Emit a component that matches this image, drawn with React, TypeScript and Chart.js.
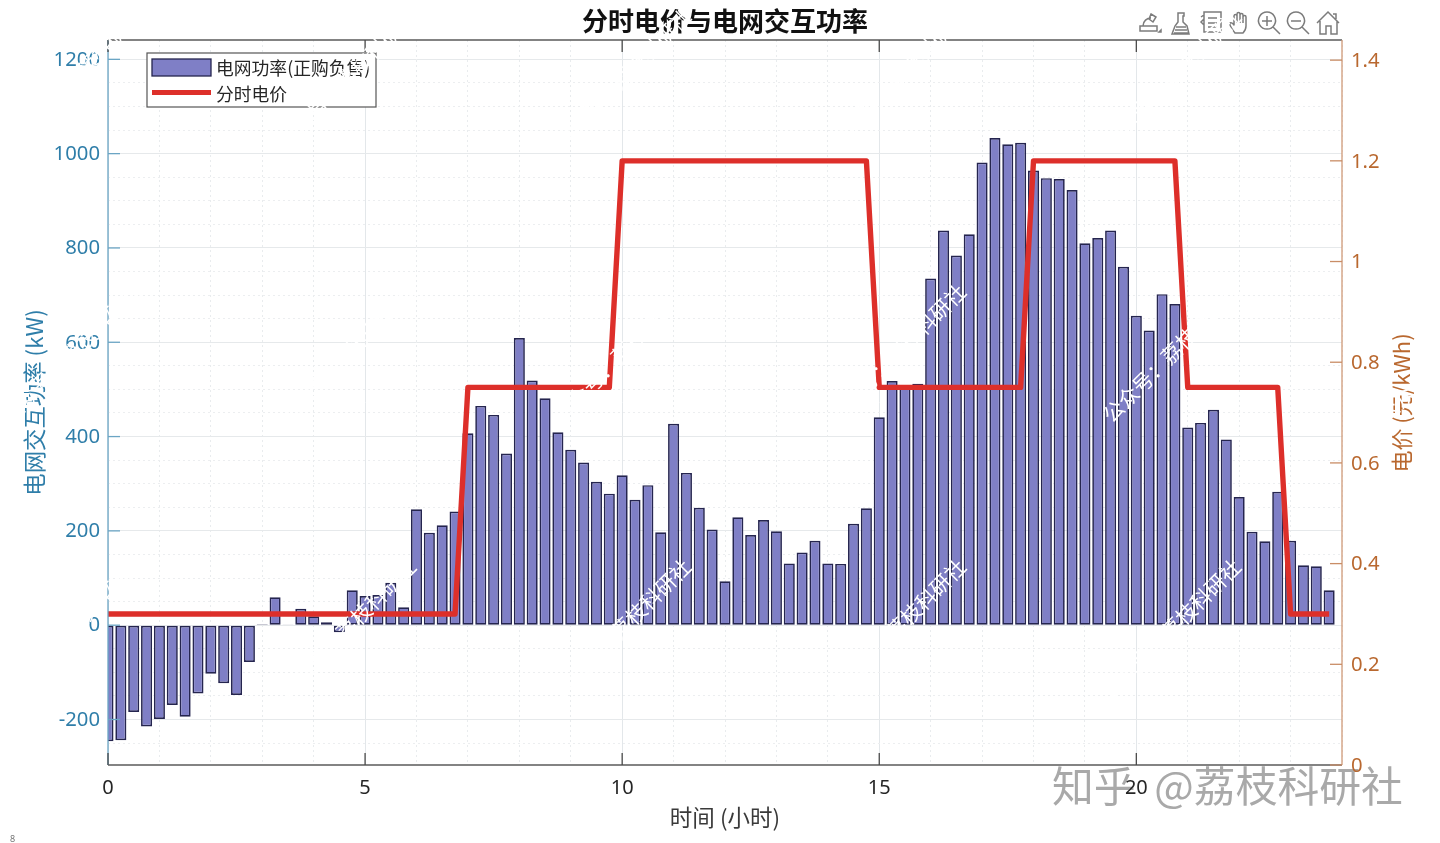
import React, { useEffect, useRef } from "react";
import Chart from "chart.js/auto";

const CJK = '"Noto Sans CJK SC", "Noto Sans", sans-serif';
const NUM = '"Noto Sans", "Open Sans", sans-serif';

const BLUE = "#2f7ea9";
const BROWN = "#b9682f";

// one bar every 15 minutes
const hours = [
  0, 0.25, 0.5, 0.75, 1, 1.25, 1.5, 1.75, 2, 2.25, 2.5, 2.75,
  3, 3.25, 3.5, 3.75, 4, 4.25, 4.5, 4.75, 5, 5.25, 5.5, 5.75,
  6, 6.25, 6.5, 6.75, 7, 7.25, 7.5, 7.75, 8, 8.25, 8.5, 8.75,
  9, 9.25, 9.5, 9.75, 10, 10.25, 10.5, 10.75, 11, 11.25, 11.5, 11.75,
  12, 12.25, 12.5, 12.75, 13, 13.25, 13.5, 13.75, 14, 14.25, 14.5, 14.75,
  15, 15.25, 15.5, 15.75, 16, 16.25, 16.5, 16.75, 17, 17.25, 17.5, 17.75,
  18, 18.25, 18.5, 18.75, 19, 19.25, 19.5, 19.75, 20, 20.25, 20.5, 20.75,
  21, 21.25, 21.5, 21.75, 22, 22.25, 22.5, 22.75, 23, 23.25, 23.5, 23.75,
];

const gridPower = [
  -246, -244, -184, -215, -199, -169, -194, -145, -103, -123, -148, -78,
  2, 59, 1.5, 35, 19, 6, -15, 74, 62, 64, 90, 38,
  246, 196, 212, 241, 407, 465, 446, 364, 609, 519, 481, 409,
  372, 345, 304, 279, 318, 266, 297, 197, 427, 323, 249, 203,
  93, 229, 191, 223, 199, 131, 154, 179, 131, 130, 215, 248,
  441, 518, 509, 512, 735, 837, 784, 829, 981, 1033, 1020, 1023,
  964, 948, 946, 923, 810, 821, 837, 760, 656, 625, 702, 681,
  419, 429, 457, 394, 272, 198, 178, 283, 179, 127, 125, 74,
];

const touPrice = [
  0.3, 0.3, 0.3, 0.3, 0.3, 0.3, 0.3, 0.3, 0.3, 0.3, 0.3, 0.3,
  0.3, 0.3, 0.3, 0.3, 0.3, 0.3, 0.3, 0.3, 0.3, 0.3, 0.3, 0.3,
  0.3, 0.3, 0.3, 0.3, 0.75, 0.75, 0.75, 0.75, 0.75, 0.75, 0.75, 0.75,
  0.75, 0.75, 0.75, 0.75, 1.2, 1.2, 1.2, 1.2, 1.2, 1.2, 1.2, 1.2,
  1.2, 1.2, 1.2, 1.2, 1.2, 1.2, 1.2, 1.2, 1.2, 1.2, 1.2, 1.2,
  0.75, 0.75, 0.75, 0.75, 0.75, 0.75, 0.75, 0.75, 0.75, 0.75, 0.75, 0.75,
  1.2, 1.2, 1.2, 1.2, 1.2, 1.2, 1.2, 1.2, 1.2, 1.2, 1.2, 1.2,
  0.75, 0.75, 0.75, 0.75, 0.75, 0.75, 0.75, 0.75, 0.3, 0.3, 0.3, 0.3,
];

const xMajorTicks = [0, 5, 10, 15, 20];
const powerTicks = [-200, 0, 200, 400, 600, 800, 1000, 1200];
const priceTicks = [0, 0.2, 0.4, 0.6, 0.8, 1, 1.2, 1.4];

// matlab axes toolbar, icons drawn in a 24x24 box
const toolbarIcons = [
  { cx: 1150, paths: ["M2 20h17v-5H2zM5 15c0-5 4-8 8-8M13 3l5 3-3 5-4-3zM21 21l2-2v2z"] },
  { cx: 1181, paths: ["M9 2h6v3h-1v6l4 4 2 8H3l3-8 3-4V5H9zM7 16h10M6 19h12M5 22h14"] },
  { cx: 1211, paths: ["M5 1h17v20H5zM2 6l3-2v4l-3 3 3 3v4M9 7h9M9 12h9M9 16h9"] },
  { cx: 1240, paths: ["M7 22c-2-3-6-7-5-10 2-1 3 1 4 2V5c0-2 3-2 3 0V3c0-2 3-2 3 0v1c0-2 3-2 3 0v2c0-2 3-2 3 0v9c0 3-1 5-3 7zM9 5v7M12 4v8M15 5v7"] },
  { cx: 1269, paths: ["M10 1a8.5 8.5 0 1 0 .01 0zM16 16l7 7M10 5v10M5 10h10"] },
  { cx: 1298, paths: ["M10 1a8.5 8.5 0 1 0 .01 0zM16 16l7 7M5 10h10"] },
  { cx: 1328, paths: ["M1 12L12 1l11 11M4 10v13h6v-8h5v8h6V10M17 3h3v5"] },
];

const frameAndExtras = {
  id: "frameAndExtras",
  beforeDraw(chart: any) {
    const { ctx } = chart;
    ctx.save();
    ctx.fillStyle = "#a9a9a9";
    ctx.font = `41.8px ${CJK}`;
    ctx.textBaseline = "middle";
    ctx.textAlign = "left";
    ctx.fillText("知乎  @荔枝科研社", 1052, 786);
    ctx.font = `9px ${NUM}`;
    ctx.fillStyle = "#777777";
    ctx.fillText("8", 10, 839);
    ctx.restore();
  },
  afterDraw(chart: any) {
    const { ctx, chartArea: a, scales } = chart;
    ctx.save();

    // axes box
    const line = (x1: number, y1: number, x2: number, y2: number, color: string, w = 1.3) => {
      ctx.strokeStyle = color;
      ctx.lineWidth = w;
      ctx.beginPath();
      ctx.moveTo(x1, y1);
      ctx.lineTo(x2, y2);
      ctx.stroke();
    };
    line(a.left, a.top, a.right, a.top, "#5a5a5a");
    line(a.left, a.bottom, a.right, a.bottom, "#5a5a5a");
    line(a.left, a.top, a.left, a.bottom, "#6ba5c4");
    line(a.right, a.top, a.right, a.bottom, "#cf9a78");

    // inward tick marks
    xMajorTicks.forEach((t) => {
      const px = scales.x.getPixelForValue(t);
      line(px, a.bottom, px, a.bottom - 12, "#4a4a4a");
      line(px, a.top, px, a.top + 12, "#4a4a4a");
    });
    powerTicks.forEach((t) => {
      const py = scales.y.getPixelForValue(t);
      line(a.left, py, a.left + 12, py, "#6ba5c4");
    });
    priceTicks.forEach((t) => {
      const py = scales.y1.getPixelForValue(t);
      line(a.right, py, a.right - 12, py, "#c98d66");
    });

    // right axis title reads upwards, chart.js would turn it the other way
    ctx.save();
    ctx.translate(1402, 403);
    ctx.rotate(-Math.PI / 2);
    ctx.fillStyle = BROWN;
    ctx.font = `22px ${CJK}`;
    ctx.textAlign = "center";
    ctx.textBaseline = "middle";
    ctx.fillText("电价 (元/kWh)", 0, 0);
    ctx.restore();

    // legend
    const [bars, price] = chart.data.datasets;
    ctx.fillStyle = "#ffffff";
    ctx.strokeStyle = "#555555";
    ctx.lineWidth = 1.2;
    ctx.fillRect(147, 53, 229, 54);
    ctx.strokeRect(147, 53, 229, 54);
    ctx.fillStyle = bars.backgroundColor;
    ctx.strokeStyle = bars.borderColor;
    ctx.lineWidth = 1.3;
    ctx.fillRect(152, 59, 59, 17);
    ctx.strokeRect(152, 59, 59, 17);
    line(152, 92.5, 211, 92.5, price.borderColor, 5);
    ctx.fillStyle = "#262626";
    ctx.font = `17.8px ${CJK}`;
    ctx.textBaseline = "middle";
    ctx.textAlign = "left";
    ctx.fillText(bars.label, 216, 68);
    ctx.fillText(price.label, 216, 94);

    // toolbar
    ctx.strokeStyle = "#7c7c7c";
    ctx.lineWidth = 1.5;
    toolbarIcons.forEach((icon) => {
      ctx.save();
      ctx.translate(icon.cx - 12, 11);
      icon.paths.forEach((d) => ctx.stroke(new Path2D(d)));
      ctx.restore();
    });

    // white diagonal watermark over everything
    ctx.fillStyle = "#ffffff";
    ctx.font = `20.5px ${CJK}`;
    ctx.textAlign = "right";
    ctx.textBaseline = "middle";
    for (let ex = 137; ex < 1600; ex += 275) {
      for (let ey = 13; ey < 900; ey += 275) {
        ctx.save();
        ctx.translate(ex, ey);
        ctx.rotate(-Math.PI / 4);
        ctx.fillText("公众号：荔枝科研社", 0, 0);
        ctx.restore();
      }
    }
    ctx.restore();
  },
};

const App: React.FC = () => {
  const canvasRef = useRef<HTMLCanvasElement | null>(null);

  useEffect(() => {
    if (!canvasRef.current) return;
    const chart = new Chart(canvasRef.current, {
      type: "bar",
      data: {
        datasets: [
          {
            label: "电网功率(正购负售)",
            data: hours.map((h, i) => ({ x: h, y: gridPower[i] })),
            yAxisID: "y",
            backgroundColor: "#7f7fc6",
            borderColor: "#25254f",
            borderWidth: 1.7,
            borderSkipped: false,
            barPercentage: 0.86,
            categoryPercentage: 1,
            order: 2,
          },
          {
            type: "line",
            label: "分时电价",
            data: hours.map((h, i) => ({ x: h, y: touPrice[i] })),
            yAxisID: "y1",
            borderColor: "#dd2f2a",
            borderWidth: 5.4,
            pointRadius: 0,
            tension: 0,
            borderJoinStyle: "round",
            order: 1,
          },
        ],
      } as any,
      options: {
        responsive: false,
        animation: false,
        devicePixelRatio: 1,
        layout: { padding: 0 },
        plugins: {
          legend: { display: false },
          tooltip: { enabled: false },
          title: {
            display: true,
            text: "分时电价与电网交互功率",
            fullSize: false,
            color: "#111111",
            font: { family: CJK, size: 26, weight: "bold", lineHeight: 1.2 },
            padding: { top: 6, bottom: 2.8 },
          },
        },
        scales: {
          x: {
            type: "linear",
            min: 0,
            max: 24,
            offset: false,
            afterFit: (s: any) => {
              s.height = 78;
            },
            border: {
              display: false,
              dash: (c: any) => (c.tick && c.tick.value % 5 === 0 ? [] : [2, 3]),
            },
            grid: {
              offset: false,
              drawTicks: false,
              color: (c: any) => (c.tick && c.tick.value % 5 === 0 ? "#e3e7ea" : "#e9ecee"),
              lineWidth: 1,
            },
            ticks: {
              stepSize: 1,
              autoSkip: false,
              maxRotation: 0,
              padding: 11,
              color: "#262626",
              font: { family: NUM, size: 20 },
              callback: (v: any) => (xMajorTicks.includes(v) ? String(v) : ""),
            },
            title: {
              display: true,
              text: "时间 (小时)",
              color: "#3a3a3a",
              font: { family: CJK, size: 22.5, lineHeight: 1.2 },
              padding: { top: 0, bottom: 12.5 },
            },
          },
          y: {
            type: "linear",
            position: "left",
            min: -296.5,
            max: 1241,
            afterFit: (s: any) => {
              s.width = 108;
            },
            border: {
              display: false,
              dash: (c: any) => (c.tick && c.tick.value % 200 === 0 ? [] : [2, 3]),
            },
            grid: {
              drawTicks: false,
              color: (c: any) => (c.tick && c.tick.value % 200 === 0 ? "#e6e9eb" : "#eceef0"),
              lineWidth: 1,
            },
            ticks: {
              stepSize: 50,
              autoSkip: false,
              includeBounds: false,
              padding: 8,
              labelOffset: 0.5,
              color: BLUE,
              font: { family: NUM, size: 20.3 },
              callback: (v: any) => (powerTicks.includes(v) ? String(v) : ""),
            },
            title: {
              display: true,
              text: "电网交互功率 (kW)",
              color: BLUE,
              font: { family: CJK, size: 22.4, lineHeight: 1.2 },
              padding: { top: 21, bottom: 0 },
            },
          },
          y1: {
            type: "linear",
            position: "right",
            min: 0,
            max: 1.44,
            afterFit: (s: any) => {
              s.width = 98;
            },
            border: { display: false },
            grid: { display: false, drawTicks: false },
            ticks: {
              stepSize: 0.2,
              autoSkip: false,
              includeBounds: false,
              padding: 9,
              labelOffset: 1,
              color: BROWN,
              font: { family: NUM, size: 20.3 },
              callback: (v: any) => String(Math.round(v * 10) / 10),
            },
          },
        },
      } as any,
      plugins: [frameAndExtras],
    });
    return () => chart.destroy();
  }, []);

  return (
    <div style={{ position: "absolute", left: 0, top: 0, width: 1440, height: 843, background: "#fff" }}>
      <canvas ref={canvasRef} width={1440} height={843} style={{ display: "block" }} />
    </div>
  );
};

export default App;
